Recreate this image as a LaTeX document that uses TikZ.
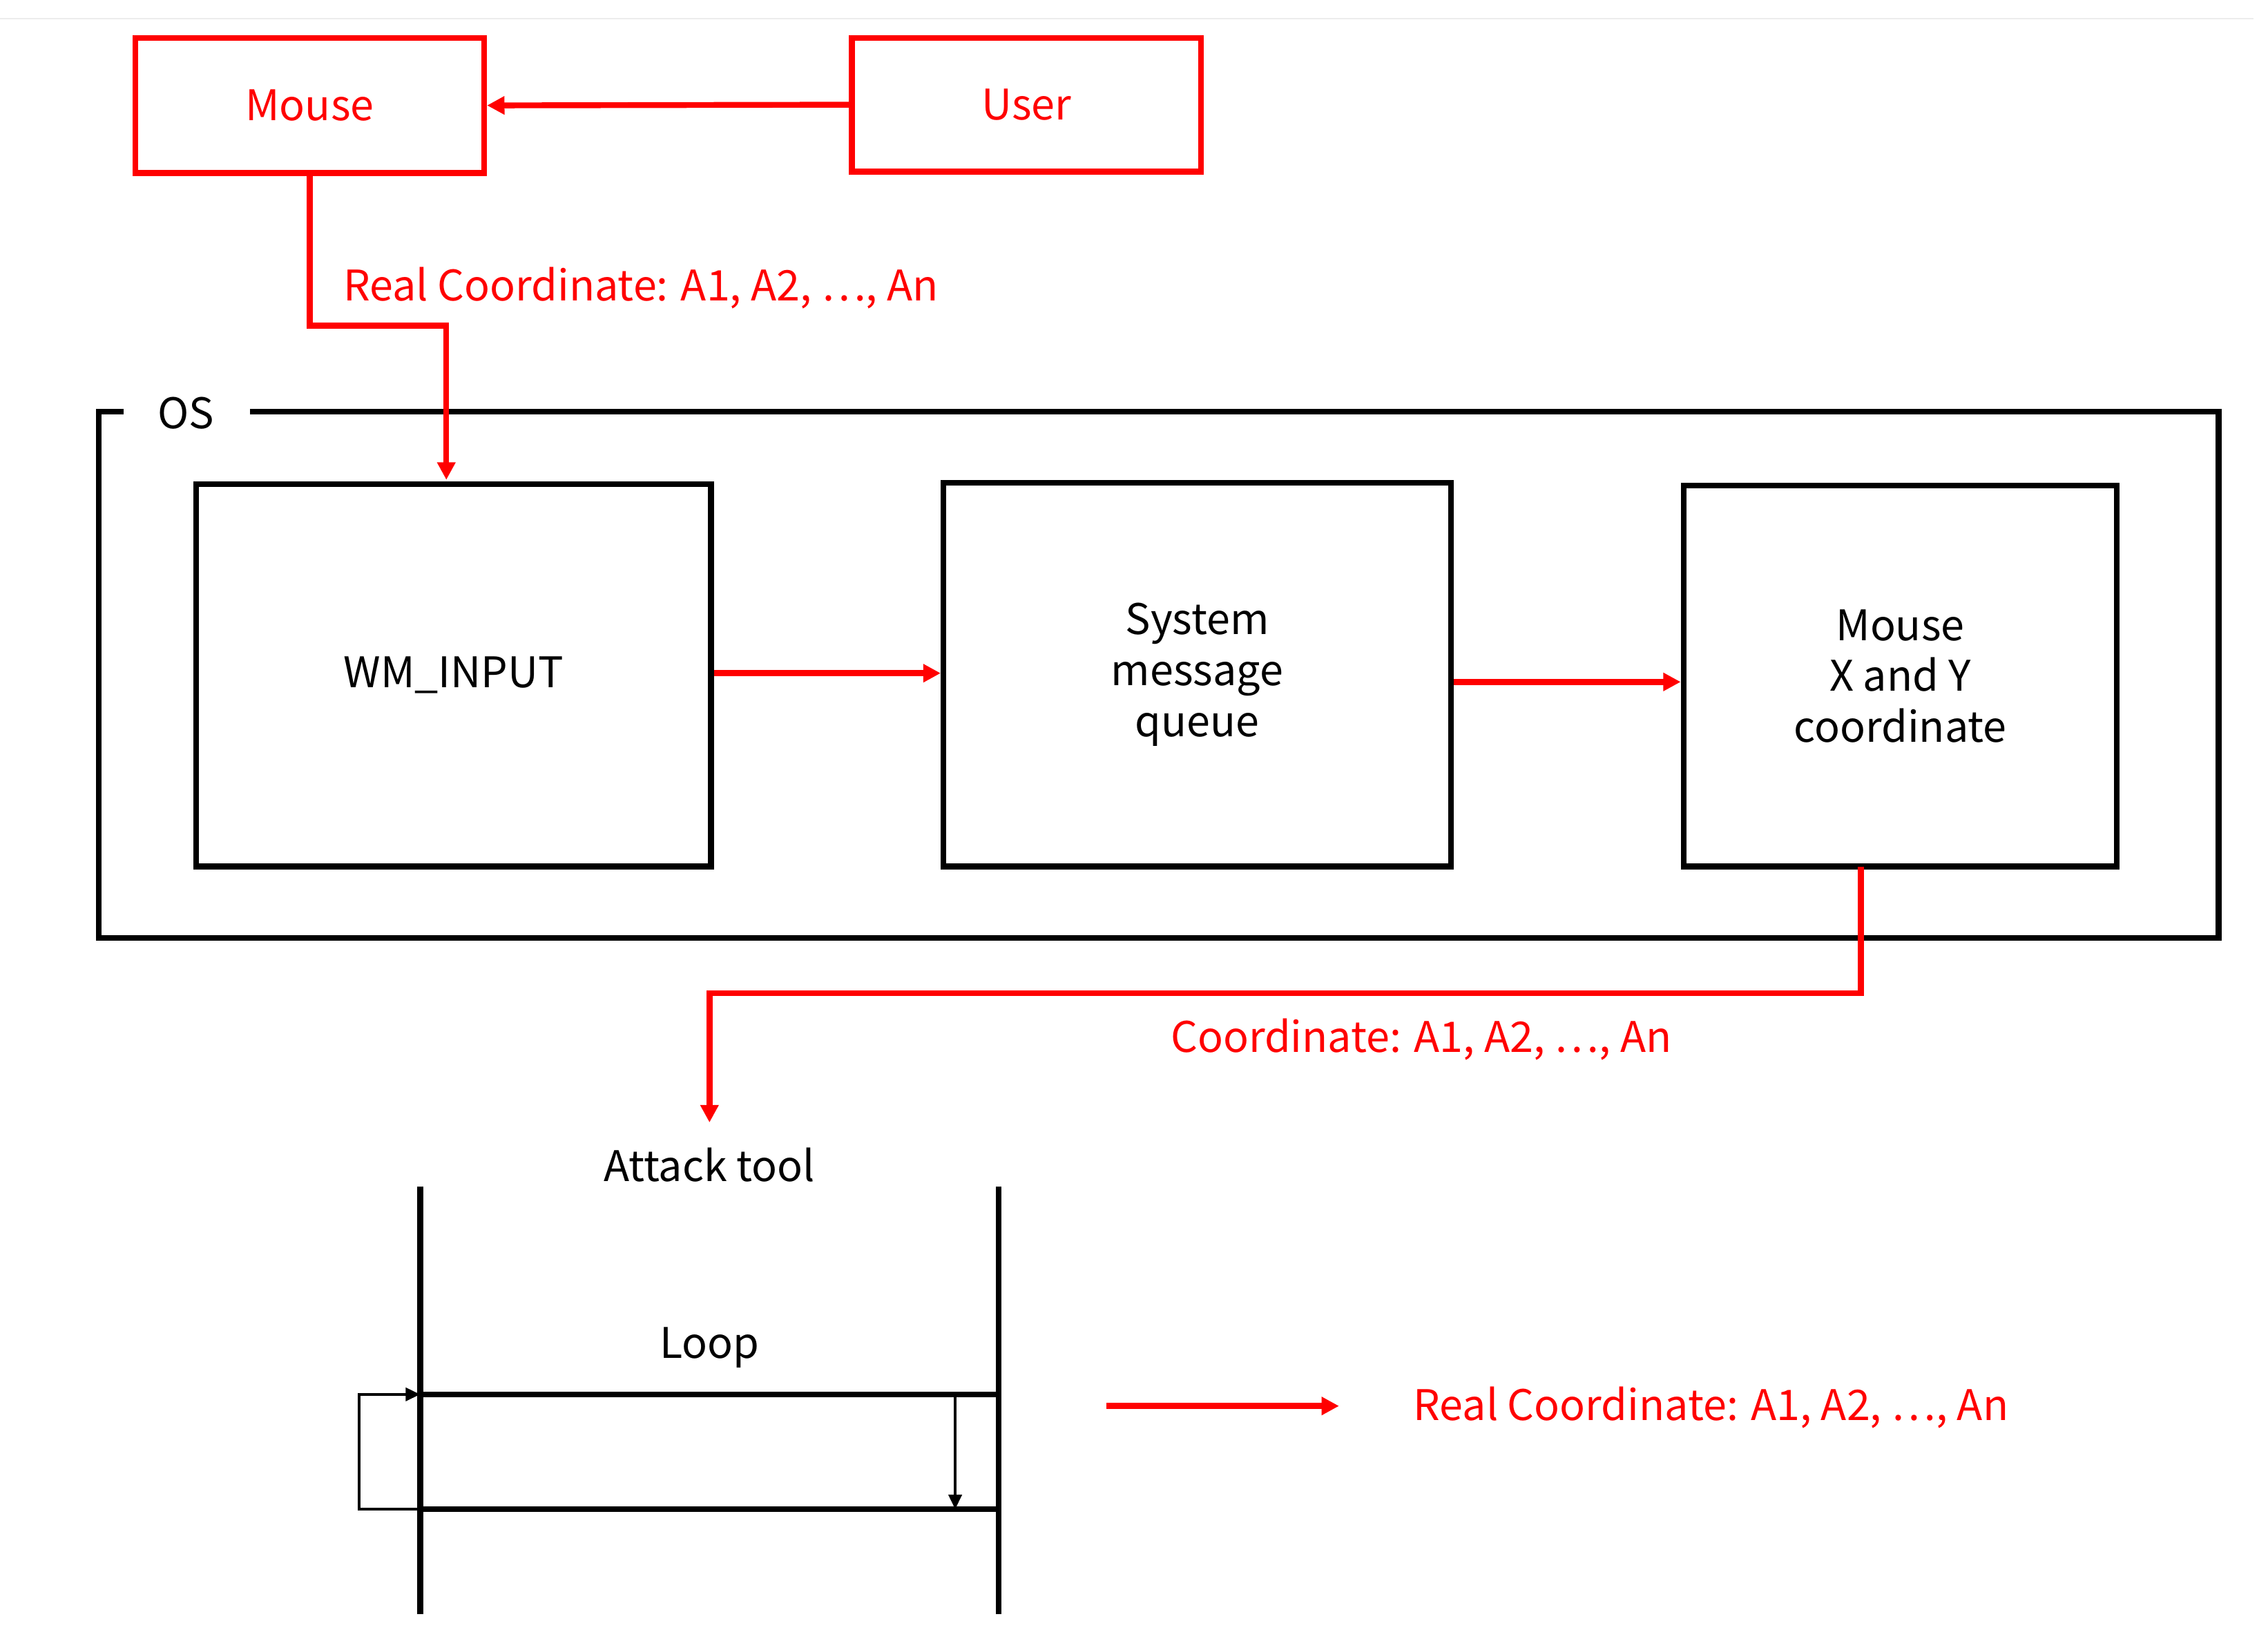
\documentclass[tikz,border=0pt]{standalone}
\usepackage{fontspec}
\setmainfont{Noto Sans CJK KR}
\usetikzlibrary{arrows.meta}
\begin{document}
\begin{tikzpicture}[x=1pt,y=-1pt,
  font=\fontsize{29}{35}\selectfont,
  rbox/.style={draw=red,line width=4pt,text=red},
  bbox/.style={draw=black,line width=4pt,align=center},
  rline/.style={draw=red,line width=4pt,-{Triangle[length=12pt,width=12pt]}},
  rlab/.style={text=red,anchor=west,inner sep=0}]
\useasboundingbox (0,0) rectangle (1560,1121);
\draw[gray!15,line width=1pt] (0,13) -- (1550,13);
\node[rbox,minimum width=240pt,minimum height=93pt] (mouse) at (213,72.5) {Mouse};
\node[rbox,minimum width=240pt,minimum height=92pt] (user) at (706,72) {User};
\node[bbox,minimum width=354pt,minimum height=263pt] (wm) at (312,464.5) {WM\_INPUT};
\node[bbox,minimum width=349pt,minimum height=264pt] (smq) at (823.5,464) {System\\message\\queue};
\node[bbox,minimum width=298pt,minimum height=262pt] (mxy) at (1307,465) {Mouse\\X and Y\\coordinate};
\node[anchor=center,inner sep=0] (os) at (128,284) {OS};
\draw[line width=4pt] (85,283) -- (68,283) -- (68,645) -- (1526,645) -- (1526,283) -- (172,283);
\draw[rline] (user.west) -- (mouse.east);
\coordinate (m1) at (213,224); \coordinate (m2) at (307,224);
\draw[rline] (mouse.south) -- (m1) -- (m2) -- (307,330);
\node[rlab] (l1) at (236,198) {Real Coordinate: A1, A2, ⋯, An};
\draw[rline] (wm.east |- 0,463) -- (smq.west |- 0,463);
\draw[rline] (smq.east |- 0,469) -- (mxy.west |- 0,469);
\coordinate (c0) at (1280,596); \coordinate (c1) at (1280,683); \coordinate (c2) at (488,683); \coordinate (c3) at (488,772);
\draw[rline] (c0) -- (c1) -- (c2) -- (c3);
\node[rlab] (l2) at (805,715) {Coordinate: A1, A2, ⋯, An};
\node (at) at (488,801) {Attack tool};
\coordinate (v1t) at (289,816); \coordinate (v1b) at (289,1110);
\coordinate (v2t) at (687,816); \coordinate (v2b) at (687,1110);
\draw[line width=4pt] (v1t) -- (v1b); \draw[line width=4pt] (v2t) -- (v2b);
\node (loop) at (488,927) {Loop};
\coordinate (h1l) at (289,959); \coordinate (h1r) at (687,959);
\coordinate (h2l) at (289,1038); \coordinate (h2r) at (687,1038);
\draw[line width=4pt] (h1l) -- (h1r); \draw[line width=4pt] (h2l) -- (h2r);
\draw[line width=2pt,-{Triangle[length=10pt,width=9pt]}] (h2l) -- (247,1038) -- (247,959) -- (h1l);
\draw[line width=2pt,-{Triangle[length=10pt,width=9pt]}] (657,959) -- (657,1038);
\coordinate (a1) at (761,967); \coordinate (a2) at (921,967);
\draw[rline] (a1) -- (a2);
\node[rlab] (l3) at (972,968) {Real Coordinate: A1, A2, ⋯, An};
\end{tikzpicture}
\end{document}
